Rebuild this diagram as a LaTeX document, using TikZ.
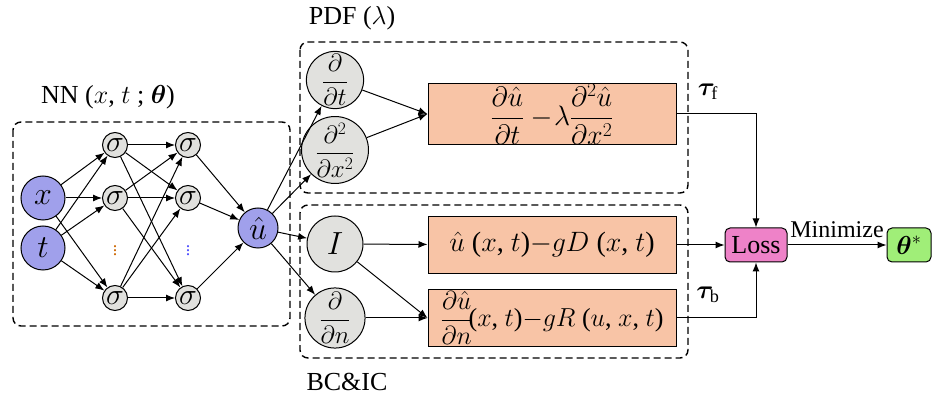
\RequirePackage{fix-cm}
\documentclass[tikz,border=0pt]{standalone}
\usepackage{fontspec}
\setmainfont{Liberation Serif}
\usepackage{amsmath,bm}
\usetikzlibrary{arrows.meta}
\definecolor{blu}{RGB}{160,160,235}
\definecolor{gry}{RGB}{225,225,222}
\definecolor{org}{RGB}{248,196,166}
\definecolor{pnk}{RGB}{238,130,200}
\definecolor{grn}{RGB}{160,238,120}
\begin{document}
\begin{tikzpicture}[x=1pt,y=-1pt,
  every node/.style={font=\fontsize{26}{28}\selectfont},
  inp/.style={circle,draw,fill=blu,minimum size=44pt,inner sep=0pt,font=\fontsize{32}{34}\selectfont},
  sig/.style={circle,draw,fill=gry,minimum size=25pt,inner sep=0pt,font=\fontsize{30}{30}\selectfont},
  op/.style={circle,draw,fill=gry,minimum size=56pt,inner sep=0pt,font=\fontsize{25}{26}\selectfont},
  eq/.style={draw,fill=org,minimum width=248pt,minimum height=57pt,inner sep=0pt,font=\fontsize{28}{30}\selectfont},
  box/.style={draw,line width=1.4pt,dash pattern=on 7pt off 4pt,rounded corners=8pt},
  arr/.style={-{Latex[length=9pt,width=7pt]},line width=1pt},
  line width=1pt]
\useasboundingbox (0,0) rectangle (945,403);
% boxes
\draw[box] (13,122) rectangle (290,326);
\draw[box] (300,42) rectangle (688,193);
\draw[box] (300,205) rectangle (688,358);
\node (lnn) at (108,97) {NN ($x$, $t$ ; $\bm{\theta}$)};
\node (lpdf) at (352,18) {PDF ($\lambda$)};
\node (lbc) at (347,382) {BC\&IC};
% NN
\node[inp] (x) at (43,198) {$x$};
\node[inp] (t) at (43,248) {$t$};
\node[sig] (a1) at (115,145) {$\sigma$};
\node[sig] (a2) at (115,198) {$\sigma$};
\node[sig] (a3) at (115,298) {$\sigma$};
\node[sig] (b1) at (188,145) {$\sigma$};
\node[sig] (b2) at (188,198) {$\sigma$};
\node[sig] (b3) at (188,298) {$\sigma$};
\node[text=orange!80!black,font=\fontsize{18}{18}\selectfont] (d1) at (115,248) {$\vdots$};
\node[text=blue!70,font=\fontsize{18}{18}\selectfont] (d2) at (188,248) {$\vdots$};
\node[inp,minimum size=40pt] (u) at (258,228) {$\hat{u}$};
\foreach \s in {x,t}{\foreach \d in {a1,a2,a3}{\draw[arr] (\s) -- (\d);}}
\foreach \s in {a1,a2,a3}{\foreach \d in {b1,b2,b3}{\draw[arr] (\s) -- (\d);}}
\foreach \s in {b1,b2,b3}{\draw[arr] (\s) -- (u);}
% operators
\node[op] (dt) at (335,80) {$\dfrac{\partial}{\partial t}$};
\node[op] (dxx) at (335,150) {$\dfrac{\partial^2}{\partial x^2}$};
\node[op,font=\fontsize{32}{34}\selectfont] (I) at (335,244) {$I$};
\node[op] (dn) at (335,318) {$\dfrac{\partial}{\partial n}$};
\foreach \d in {dt,dxx,I,dn}{\draw[arr] (u) -- (\d);}
\node[eq] (e1) at (552,114) {$\dfrac{\partial\hat{u}}{\partial t}-\!\lambda\dfrac{\partial^2\hat{u}}{\partial x^2}$};
\node[eq] (e2) at (552,245) {$\hat{u}$ ($x$, $t$)$-gD$ ($x$, $t$)};
\node[eq,font=\fontsize{26}{28}\selectfont] (e3) at (552,318) {$\dfrac{\partial\hat{u}}{\partial n}\!$($x$, $t$)$-gR$ ($u$, $x$, $t$)};
\draw[arr] (dt) -- (e1.west);
\draw[arr] (dxx) -- (e1.west);
\draw[arr] (I) -- (e2);
\draw[arr] (I) -- (e3.west);
\draw[arr] (dn) -- (e3);
% loss
\node[draw,fill=pnk,rounded corners=5pt,minimum width=62pt,minimum height=34pt,inner sep=0pt] (loss) at (756,245) {Loss};
\node[draw,fill=grn,rounded corners=5pt,minimum width=44pt,minimum height=34pt,inner sep=0pt] (th) at (909,245) {$\bm{\theta}^{*}$};
\draw[arr] (e1.east) -| (loss.north);
\draw[arr] (e2) -- (loss);
\draw[arr] (e3.east) -| (loss.south);
\draw[arr] (loss) -- node[above=3pt,font=\fontsize{24}{26}\selectfont] {Minimize} (th);
\node (tf) at (708,92) {$\bm{\tau}_{\mathrm{f}}$};
\node (tb) at (708,295) {$\bm{\tau}_{\mathrm{b}}$};
\end{tikzpicture}
\end{document}
